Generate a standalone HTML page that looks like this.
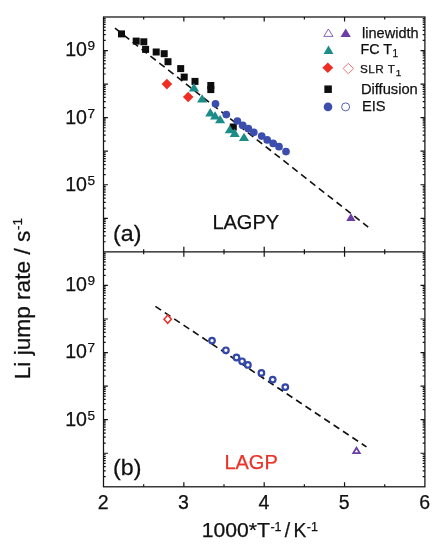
<!DOCTYPE html>
<html><head><meta charset="utf-8"><title>Li jump rate</title>
<style>html,body{margin:0;padding:0;background:#fff}svg{display:block;filter:blur(.3px)}text{font-family:"Liberation Sans",Arial,sans-serif;fill:#111;stroke:#111;stroke-width:.25px}</style></head>
<body>
<svg width="444" height="550" viewBox="0 0 444 550">
<rect width="444" height="550" fill="#fff"/>
<path d="M103.50 40.45L105.70 40.45M424.90 40.45L422.70 40.45M103.50 34.54L105.70 34.54M424.90 34.54L422.70 34.54M103.50 30.35L105.70 30.35M424.90 30.35L422.70 30.35M103.50 27.10L105.70 27.10M424.90 27.10L422.70 27.10M103.50 24.44L105.70 24.44M424.90 24.44L422.70 24.44M103.50 22.20L105.70 22.20M424.90 22.20L422.70 22.20M103.50 20.25L105.70 20.25M424.90 20.25L422.70 20.25M103.50 18.54L105.70 18.54M424.90 18.54L422.70 18.54M103.50 50.55L107.90 50.55M424.90 50.55L420.50 50.55M103.50 74.00L105.70 74.00M424.90 74.00L422.70 74.00M103.50 68.09L105.70 68.09M424.90 68.09L422.70 68.09M103.50 63.90L105.70 63.90M424.90 63.90L422.70 63.90M103.50 60.65L105.70 60.65M424.90 60.65L422.70 60.65M103.50 57.99L105.70 57.99M424.90 57.99L422.70 57.99M103.50 55.75L105.70 55.75M424.90 55.75L422.70 55.75M103.50 53.80L105.70 53.80M424.90 53.80L422.70 53.80M103.50 52.09L105.70 52.09M424.90 52.09L422.70 52.09M103.50 84.10L107.90 84.10M424.90 84.10L420.50 84.10M103.50 107.55L105.70 107.55M424.90 107.55L422.70 107.55M103.50 101.64L105.70 101.64M424.90 101.64L422.70 101.64M103.50 97.45L105.70 97.45M424.90 97.45L422.70 97.45M103.50 94.20L105.70 94.20M424.90 94.20L422.70 94.20M103.50 91.54L105.70 91.54M424.90 91.54L422.70 91.54M103.50 89.30L105.70 89.30M424.90 89.30L422.70 89.30M103.50 87.35L105.70 87.35M424.90 87.35L422.70 87.35M103.50 85.64L105.70 85.64M424.90 85.64L422.70 85.64M103.50 117.65L107.90 117.65M424.90 117.65L420.50 117.65M103.50 141.10L105.70 141.10M424.90 141.10L422.70 141.10M103.50 135.19L105.70 135.19M424.90 135.19L422.70 135.19M103.50 131.00L105.70 131.00M424.90 131.00L422.70 131.00M103.50 127.75L105.70 127.75M424.90 127.75L422.70 127.75M103.50 125.09L105.70 125.09M424.90 125.09L422.70 125.09M103.50 122.85L105.70 122.85M424.90 122.85L422.70 122.85M103.50 120.90L105.70 120.90M424.90 120.90L422.70 120.90M103.50 119.19L105.70 119.19M424.90 119.19L422.70 119.19M103.50 151.20L107.90 151.20M424.90 151.20L420.50 151.20M103.50 174.65L105.70 174.65M424.90 174.65L422.70 174.65M103.50 168.74L105.70 168.74M424.90 168.74L422.70 168.74M103.50 164.55L105.70 164.55M424.90 164.55L422.70 164.55M103.50 161.30L105.70 161.30M424.90 161.30L422.70 161.30M103.50 158.64L105.70 158.64M424.90 158.64L422.70 158.64M103.50 156.40L105.70 156.40M424.90 156.40L422.70 156.40M103.50 154.45L105.70 154.45M424.90 154.45L422.70 154.45M103.50 152.74L105.70 152.74M424.90 152.74L422.70 152.74M103.50 184.75L107.90 184.75M424.90 184.75L420.50 184.75M103.50 208.20L105.70 208.20M424.90 208.20L422.70 208.20M103.50 202.29L105.70 202.29M424.90 202.29L422.70 202.29M103.50 198.10L105.70 198.10M424.90 198.10L422.70 198.10M103.50 194.85L105.70 194.85M424.90 194.85L422.70 194.85M103.50 192.19L105.70 192.19M424.90 192.19L422.70 192.19M103.50 189.95L105.70 189.95M424.90 189.95L422.70 189.95M103.50 188.00L105.70 188.00M424.90 188.00L422.70 188.00M103.50 186.29L105.70 186.29M424.90 186.29L422.70 186.29M103.50 218.30L107.90 218.30M424.90 218.30L420.50 218.30M103.50 241.75L105.70 241.75M424.90 241.75L422.70 241.75M103.50 235.84L105.70 235.84M424.90 235.84L422.70 235.84M103.50 231.65L105.70 231.65M424.90 231.65L422.70 231.65M103.50 228.40L105.70 228.40M424.90 228.40L422.70 228.40M103.50 225.74L105.70 225.74M424.90 225.74L422.70 225.74M103.50 223.50L105.70 223.50M424.90 223.50L422.70 223.50M103.50 221.55L105.70 221.55M424.90 221.55L422.70 221.55M103.50 219.84L105.70 219.84M424.90 219.84L422.70 219.84M103.50 275.31L105.70 275.31M424.90 275.31L422.70 275.31M103.50 269.40L105.70 269.40M424.90 269.40L422.70 269.40M103.50 265.21L105.70 265.21M424.90 265.21L422.70 265.21M103.50 261.95L105.70 261.95M424.90 261.95L422.70 261.95M103.50 259.30L105.70 259.30M424.90 259.30L422.70 259.30M103.50 257.05L105.70 257.05M424.90 257.05L422.70 257.05M103.50 255.10L105.70 255.10M424.90 255.10L422.70 255.10M103.50 253.39L105.70 253.39M424.90 253.39L422.70 253.39M103.50 285.41L107.90 285.41M424.90 285.41L420.50 285.41M103.50 308.87L105.70 308.87M424.90 308.87L422.70 308.87M103.50 302.96L105.70 302.96M424.90 302.96L422.70 302.96M103.50 298.77L105.70 298.77M424.90 298.77L422.70 298.77M103.50 295.52L105.70 295.52M424.90 295.52L422.70 295.52M103.50 292.86L105.70 292.86M424.90 292.86L422.70 292.86M103.50 290.61L105.70 290.61M424.90 290.61L422.70 290.61M103.50 288.67L105.70 288.67M424.90 288.67L422.70 288.67M103.50 286.95L105.70 286.95M424.90 286.95L422.70 286.95M103.50 318.98L107.90 318.98M424.90 318.98L420.50 318.98M103.50 342.44L105.70 342.44M424.90 342.44L422.70 342.44M103.50 336.53L105.70 336.53M424.90 336.53L422.70 336.53M103.50 332.34L105.70 332.34M424.90 332.34L422.70 332.34M103.50 329.08L105.70 329.08M424.90 329.08L422.70 329.08M103.50 326.42L105.70 326.42M424.90 326.42L422.70 326.42M103.50 324.18L105.70 324.18M424.90 324.18L422.70 324.18M103.50 322.23L105.70 322.23M424.90 322.23L422.70 322.23M103.50 320.51L105.70 320.51M424.90 320.51L422.70 320.51M103.50 352.54L107.90 352.54M424.90 352.54L420.50 352.54M103.50 376.00L105.70 376.00M424.90 376.00L422.70 376.00M103.50 370.09L105.70 370.09M424.90 370.09L422.70 370.09M103.50 365.90L105.70 365.90M424.90 365.90L422.70 365.90M103.50 362.65L105.70 362.65M424.90 362.65L422.70 362.65M103.50 359.99L105.70 359.99M424.90 359.99L422.70 359.99M103.50 357.74L105.70 357.74M424.90 357.74L422.70 357.74M103.50 355.80L105.70 355.80M424.90 355.80L422.70 355.80M103.50 354.08L105.70 354.08M424.90 354.08L422.70 354.08M103.50 386.11L107.90 386.11M424.90 386.11L420.50 386.11M103.50 409.57L105.70 409.57M424.90 409.57L422.70 409.57M103.50 403.66L105.70 403.66M424.90 403.66L422.70 403.66M103.50 399.46L105.70 399.46M424.90 399.46L422.70 399.46M103.50 396.21L105.70 396.21M424.90 396.21L422.70 396.21M103.50 393.55L105.70 393.55M424.90 393.55L422.70 393.55M103.50 391.31L105.70 391.31M424.90 391.31L422.70 391.31M103.50 389.36L105.70 389.36M424.90 389.36L422.70 389.36M103.50 387.64L105.70 387.64M424.90 387.64L422.70 387.64M103.50 419.67L107.90 419.67M424.90 419.67L420.50 419.67M103.50 443.13L105.70 443.13M424.90 443.13L422.70 443.13M103.50 437.22L105.70 437.22M424.90 437.22L422.70 437.22M103.50 433.03L105.70 433.03M424.90 433.03L422.70 433.03M103.50 429.78L105.70 429.78M424.90 429.78L422.70 429.78M103.50 427.12L105.70 427.12M424.90 427.12L422.70 427.12M103.50 424.87L105.70 424.87M424.90 424.87L422.70 424.87M103.50 422.92L105.70 422.92M424.90 422.92L422.70 422.92M103.50 421.21L105.70 421.21M424.90 421.21L422.70 421.21M103.50 453.24L107.90 453.24M424.90 453.24L420.50 453.24M103.50 476.70L105.70 476.70M424.90 476.70L422.70 476.70M103.50 470.79L105.70 470.79M424.90 470.79L422.70 470.79M103.50 466.59L105.70 466.59M424.90 466.59L422.70 466.59M103.50 463.34L105.70 463.34M424.90 463.34L422.70 463.34M103.50 460.68L105.70 460.68M424.90 460.68L422.70 460.68M103.50 458.43L105.70 458.43M424.90 458.43L422.70 458.43M103.50 456.49L105.70 456.49M424.90 456.49L422.70 456.49M103.50 454.77L105.70 454.77M424.90 454.77L422.70 454.77M143.68 17.00L143.68 19.50M143.68 249.35L143.68 254.35M143.68 486.80L143.68 484.30M183.85 17.00L183.85 21.50M183.85 246.85L183.85 256.85M183.85 486.80L183.85 482.30M224.02 17.00L224.02 19.50M224.02 249.35L224.02 254.35M224.02 486.80L224.02 484.30M264.20 17.00L264.20 21.50M264.20 246.85L264.20 256.85M264.20 486.80L264.20 482.30M304.38 17.00L304.38 19.50M304.38 249.35L304.38 254.35M304.38 486.80L304.38 484.30M344.55 17.00L344.55 21.50M344.55 246.85L344.55 256.85M344.55 486.80L344.55 482.30M384.72 17.00L384.72 19.50M384.72 249.35L384.72 254.35M384.72 486.80L384.72 484.30" stroke="#111" stroke-width="1.2" fill="none"/>
<rect x="103.5" y="17.0" width="321.40" height="469.80" fill="none" stroke="#111" stroke-width="1.25"/>
<line x1="103.5" y1="251.85" x2="424.9" y2="251.85" stroke="#111" stroke-width="1.25"/>
<line x1="115.0" y1="28.2" x2="368.2" y2="227.1" stroke="#111" stroke-width="1.6" stroke-dasharray="6.8 4.47"/>
<line x1="155.4" y1="306.3" x2="366.5" y2="446.9" stroke="#111" stroke-width="1.6" stroke-dasharray="6.8 4.47"/>
<rect x="118.00" y="30.40" width="7.0" height="7.0" fill="#0d0d0d"/>
<rect x="132.70" y="37.60" width="7.0" height="7.0" fill="#0d0d0d"/>
<rect x="140.30" y="38.30" width="7.0" height="7.0" fill="#0d0d0d"/>
<rect x="142.10" y="45.90" width="7.0" height="7.0" fill="#0d0d0d"/>
<rect x="152.70" y="48.50" width="7.0" height="7.0" fill="#0d0d0d"/>
<rect x="160.70" y="50.20" width="7.0" height="7.0" fill="#0d0d0d"/>
<rect x="164.50" y="58.20" width="7.0" height="7.0" fill="#0d0d0d"/>
<rect x="177.20" y="65.10" width="7.0" height="7.0" fill="#0d0d0d"/>
<rect x="180.70" y="73.60" width="7.0" height="7.0" fill="#0d0d0d"/>
<rect x="191.50" y="77.90" width="7.0" height="7.0" fill="#0d0d0d"/>
<rect x="207.30" y="82.00" width="7.0" height="7.0" fill="#0d0d0d"/>
<rect x="207.30" y="86.10" width="7.0" height="7.0" fill="#0d0d0d"/>
<rect x="229.80" y="123.50" width="7.0" height="7.0" fill="#0d0d0d"/>
<polygon points="166.90,78.80 172.20,84.10 166.90,89.40 161.60,84.10" fill="#ee2e24"/>
<polygon points="188.20,91.70 193.50,97.00 188.20,102.30 182.90,97.00" fill="#ee2e24"/>
<polygon points="194.00,83.10 199.05,91.50 188.95,91.50" fill="#1c8c88"/>
<polygon points="202.10,94.20 207.15,102.60 197.05,102.60" fill="#1c8c88"/>
<polygon points="210.30,108.00 215.35,116.40 205.25,116.40" fill="#1c8c88"/>
<polygon points="215.10,111.20 220.15,119.60 210.05,119.60" fill="#1c8c88"/>
<polygon points="220.10,114.90 225.15,123.30 215.05,123.30" fill="#1c8c88"/>
<polygon points="229.80,124.90 234.85,133.30 224.75,133.30" fill="#1c8c88"/>
<polygon points="234.70,128.60 239.75,137.00 229.65,137.00" fill="#1c8c88"/>
<polygon points="244.00,132.70 249.05,141.10 238.95,141.10" fill="#1c8c88"/>
<circle cx="215.50" cy="103.80" r="3.85" fill="#3b4eae"/>
<circle cx="226.30" cy="114.60" r="3.85" fill="#3b4eae"/>
<circle cx="237.40" cy="121.00" r="3.85" fill="#3b4eae"/>
<circle cx="242.80" cy="125.40" r="3.85" fill="#3b4eae"/>
<circle cx="248.40" cy="128.70" r="3.85" fill="#3b4eae"/>
<circle cx="253.80" cy="132.30" r="3.85" fill="#3b4eae"/>
<circle cx="261.70" cy="136.10" r="3.85" fill="#3b4eae"/>
<circle cx="267.20" cy="139.90" r="3.85" fill="#3b4eae"/>
<circle cx="273.20" cy="143.40" r="3.85" fill="#3b4eae"/>
<circle cx="279.00" cy="146.70" r="3.85" fill="#3b4eae"/>
<circle cx="286.00" cy="151.60" r="3.85" fill="#3b4eae"/>
<polygon points="350.90,213.25 355.55,220.95 346.25,220.95" fill="#6a3ea6"/>
<polygon points="167.70,315.11 171.39,319.20 167.70,323.29 164.01,319.20" fill="#fff" stroke="#ee2e24" stroke-width="1.5" stroke-miterlimit="10"/>
<circle cx="212.00" cy="340.60" r="2.80" fill="#fff" stroke="#3347a8" stroke-width="2.2"/>
<circle cx="225.90" cy="350.30" r="2.80" fill="#fff" stroke="#3347a8" stroke-width="2.2"/>
<circle cx="236.50" cy="357.50" r="2.80" fill="#fff" stroke="#3347a8" stroke-width="2.2"/>
<circle cx="242.10" cy="361.30" r="2.80" fill="#fff" stroke="#3347a8" stroke-width="2.2"/>
<circle cx="247.90" cy="364.90" r="2.80" fill="#fff" stroke="#3347a8" stroke-width="2.2"/>
<circle cx="261.40" cy="372.90" r="2.80" fill="#fff" stroke="#3347a8" stroke-width="2.2"/>
<circle cx="272.70" cy="379.60" r="2.80" fill="#fff" stroke="#3347a8" stroke-width="2.2"/>
<circle cx="285.30" cy="387.10" r="2.80" fill="#fff" stroke="#3347a8" stroke-width="2.2"/>
<polygon points="356.50,447.70 359.76,453.15 353.24,453.15" fill="#fff" stroke="#6a3ea6" stroke-width="1.8" stroke-linejoin="miter" stroke-miterlimit="10"/>
<polygon points="328.40,29.00 332.99,36.40 323.81,36.40" fill="#fff" stroke="#7a52b0" stroke-width="0.9" stroke-linejoin="miter" stroke-miterlimit="10"/>
<polygon points="345.70,28.45 350.90,36.95 340.50,36.95" fill="#6a3ea6"/>
<polygon points="328.50,45.40 333.45,54.00 323.55,54.00" fill="#1c8c88"/>
<polygon points="327.80,62.50 333.25,67.70 327.80,72.90 322.35,67.70" fill="#ee2e24"/>
<polygon points="348.30,63.32 353.48,68.50 348.30,73.68 343.12,68.50" fill="#fff" stroke="#e8505a" stroke-width="0.8" stroke-miterlimit="10"/>
<rect x="324.35" y="85.45" width="7.5" height="7.5" fill="#0d0d0d"/>
<circle cx="328.00" cy="106.90" r="4.3" fill="#3b4eae"/>
<circle cx="345.60" cy="106.90" r="4.00" fill="#fff" stroke="#5560b0" stroke-width="1.0"/>
<text x="362.0" y="38.0" font-size="14.55">linewidth</text>
<text x="360.6" y="53.9" font-size="14.3">FC T<tspan font-size="10" dx="0.3" dy="3.3">1</tspan></text>
<text x="359.9" y="72.8" font-size="11.7" letter-spacing="0.55">SLR T<tspan font-size="9.8" dx="0.3" dy="3.2">1</tspan></text>
<text x="360.9" y="93.5" font-size="14.7">Diffusion</text>
<text x="361.9" y="110.6" font-size="14.7">EIS</text>
<text x="65.2" y="56.4" font-size="19.6">10<tspan font-size="13.6" dx="0.5" dy="-6.0">9</tspan></text>
<text x="65.2" y="123.5" font-size="19.6">10<tspan font-size="13.6" dx="0.5" dy="-6.0">7</tspan></text>
<text x="65.2" y="190.7" font-size="19.6">10<tspan font-size="13.6" dx="0.5" dy="-6.0">5</tspan></text>
<text x="65.2" y="291.3" font-size="19.6">10<tspan font-size="13.6" dx="0.5" dy="-6.0">9</tspan></text>
<text x="65.2" y="358.4" font-size="19.6">10<tspan font-size="13.6" dx="0.5" dy="-6.0">7</tspan></text>
<text x="65.2" y="425.6" font-size="19.6">10<tspan font-size="13.6" dx="0.5" dy="-6.0">5</tspan></text>
<text x="103.2" y="509" font-size="19.5" text-anchor="middle">2</text>
<text x="183.5" y="509" font-size="19.5" text-anchor="middle">3</text>
<text x="263.9" y="509" font-size="19.5" text-anchor="middle">4</text>
<text x="344.2" y="509" font-size="19.5" text-anchor="middle">5</text>
<text x="424.6" y="509" font-size="19.5" text-anchor="middle">6</text>
<text x="201.8" y="536.9" font-size="19.3" word-spacing="-2.0"><tspan textLength="68.2" lengthAdjust="spacingAndGlyphs">1000*T</tspan><tspan font-size="12.5" dx="0.4" dy="-6.3">-1</tspan><tspan dy="6.3"> / K</tspan><tspan font-size="12.5" dx="0.4" dy="-6.3">-1</tspan></text>
<text transform="translate(29.5,379.3) rotate(-90) scale(1.04,1)" font-size="21.8">Li jump rate / s<tspan font-size="13" dx="0.6" dy="-7.4">-1</tspan></text>
<text transform="translate(113.0,241) scale(1.08,1)" font-size="21.5">(a)</text>
<text transform="translate(113.0,475) scale(1.08,1)" font-size="21.5">(b)</text>
<text x="212.4" y="229.3" font-size="20">LAGPY</text>
<text x="224.4" y="469.4" font-size="20" style="fill:#ea3329;stroke:#ea3329">LAGP</text>
</svg>
</body></html>
